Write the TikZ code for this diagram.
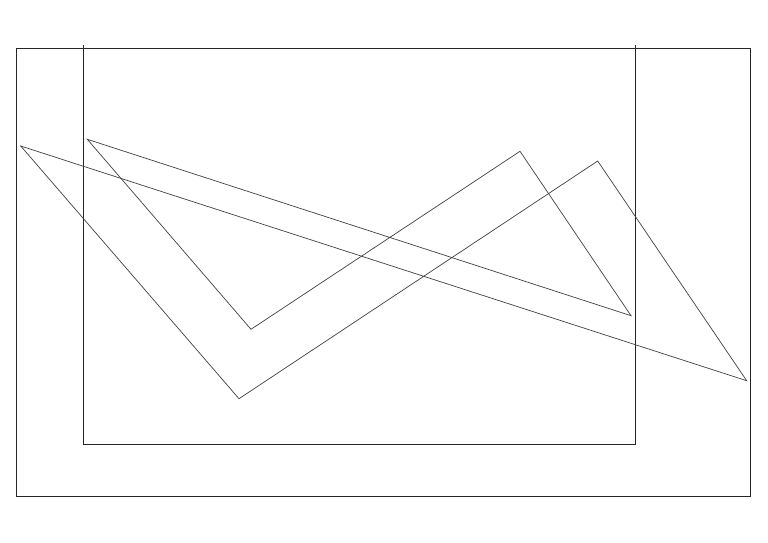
\documentclass[tikz,border=0pt]{standalone}
\usepackage{tikz}
\usetikzlibrary{positioning}

\tikzset{frame/.style={draw=black!85,line width=0.9pt},
zigzag/.style={draw=black!75,line width=0.7pt,line join=miter}}

\begin{document}
\begin{tikzpicture}[x=1pt,y=-1pt]
\useasboundingbox (0,0) rectangle (768,543);
% frames
\draw[frame] (16.5,48.7) rectangle (750.3,496);
\draw[frame] (83.3,45.5) -- (83.3,444.5) -- (635,444.5) -- (635,45.5);
% the two zigzags
\coordinate (a1) at (20.7,146);
\coordinate (a2) at (239,398.7);
\coordinate (a3) at (597.7,161);
\coordinate (a4) at (746.7,380.7);
\coordinate (b1) at (87.3,139.3);
\coordinate (b2) at (251,329.3);
\coordinate (b3) at (520,151.3);
\coordinate (b4) at (631,315.7);
\draw[zigzag] (a1) -- (a2) -- (a3) -- (a4) -- cycle;
\draw[zigzag] (b1) -- (b2) -- (b3) -- (b4) -- cycle;
\end{tikzpicture}
\end{document}
